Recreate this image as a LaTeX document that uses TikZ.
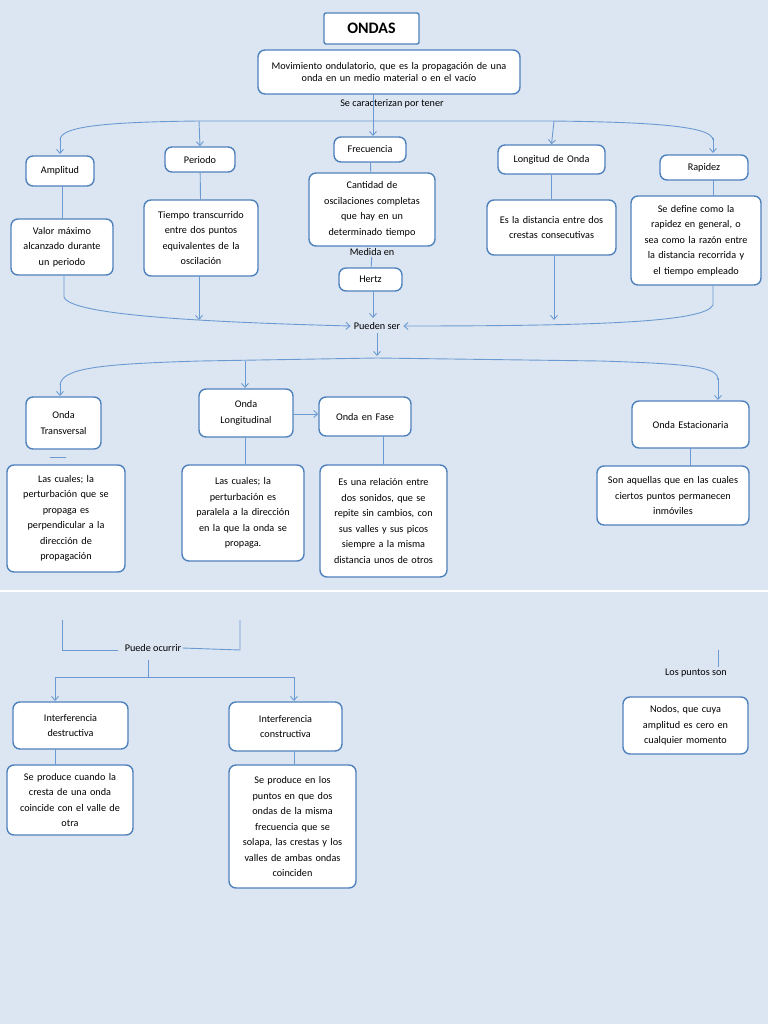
\documentclass[tikz,border=0pt]{standalone}
\usepackage{fontspec}
\setmainfont{Carlito}
\usetikzlibrary{arrows.meta}
\definecolor{bg}{HTML}{DCE6F2}
\definecolor{bd}{HTML}{4F81BD}
\definecolor{ln}{HTML}{6B9AD2}
\newcommand{\mybox}[6]{\node[box] (#1) at ({(#2+#4)/2},{(#3+#5)/2}) [minimum width={(#4-#2)*1pt},minimum height={(#5-#3)*1pt},text width={(#4-#2-8)*1pt}] {#6};}
\begin{document}
\begin{tikzpicture}[x=1pt,y=-1pt,
  box/.style={draw=bd,line width=1.4pt,fill=white,rounded corners=7pt,align=center,inner sep=0pt,font={\fontsize{10.2}{15.5}\selectfont}},
  lab/.style={inner sep=3pt,font={\fontsize{10.2}{11}\selectfont}},
  con/.style={draw=ln,line width=0.9pt},
  arr/.style={con,-{Straight Barb[length=4pt,width=7pt]}}]
\fill[bg] (0,0) rectangle (768,1024);
\useasboundingbox (0,0) rectangle (768,1024);
\draw[white,line width=1.5pt] (0,591) -- (768,591);
% top
\node[box,rounded corners=2pt,minimum width=95pt,minimum height=31pt,font={\fontsize{16}{18}\selectfont\bfseries}] (ondas) at (371.5,28.5) {ONDAS};
\mybox{mov}{258}{50}{520}{94}{Movimiento ondulatorio, que es la propagación de una\\[-4pt]onda en un medio material o en el vacío}
\node[lab,inner sep=1pt] (sc) at (392,104) {Se caracterizan por tener};
\mybox{amp}{26}{156}{94}{186}{Amplitud}
\mybox{per}{165}{147}{235}{172}{Periodo}
\mybox{fre}{334}{137}{406}{162}{Frecuencia}
\mybox{lon}{498}{145}{605}{174}{Longitud de Onda}
\mybox{rap}{660}{155}{748}{180}{Rapidez}
\draw[arr] (373,94) -- (373,136);
\draw[con] (60,140) .. controls (60,127) and (100,122) .. (200,121) -- (550,121) .. controls (650,122) and (713,126) .. (713,140);
\draw[arr] (60,138) -- (60,154);
\draw[arr] (713,138) -- (713,153);
\draw[arr] (199,121) -- (per.north);
\draw[arr] (554,121) -- (lon.north);
\mybox{vm}{11}{219}{113}{275}{Valor máximo\\alcanzado durante\\un periodo}
\mybox{tt}{144}{200}{258}{276}{Tiempo transcurrido\\entre dos puntos\\equivalentes de la\\oscilación}
\mybox{ca}{309}{173}{435}{246}{Cantidad de\\oscilaciones completas\\que hay en un\\determinado tiempo}
\node[lab,inner sep=1pt] (me) at (372,252) {Medida en};
\mybox{hz}{339}{268}{402}{291}{Hertz}
\mybox{es}{487}{200}{616}{255}{Es la distancia entre dos\\crestas consecutivas}
\mybox{sd}{631}{196}{761}{285}{Se define como la\\rapidez en general, o\\sea como la razón entre\\la distancia recorrida y\\el tiempo empleado}
\draw[con] (62,186) -- (62,219);
\draw[con] (per) -- (tt);
\draw[con] (fre) -- (ca);
\draw[con] (me) -- (hz);
\draw[con] (lon) -- (es);
\draw[con] (713,180) -- (713,196);
\node[lab] (ps) at (377,326) {Pueden ser};
\draw[arr] (64,275) -- (64,297) .. controls (70,315) and (200,322) .. (ps.west);
\draw[arr] (199,276) -- (199,320);
\draw[arr] (373,291) -- (373,318);
\draw[arr] (554,255) -- (554,320);
\draw[arr] (713,285) -- (713,305) .. controls (705,322) and (600,326) .. (ps.east);
\draw[arr] (ps.south) -- (377,356);
% second level
\mybox{ot}{26}{397}{101}{449}{Onda\\Transversal}
\mybox{ol}{199}{389}{293}{437}{Onda\\Longitudinal}
\mybox{of}{319}{397}{411}{436}{Onda en Fase}
\mybox{oe}{632}{401}{749}{448}{Onda Estacionaria}
\draw[con] (60,385) .. controls (62,368) and (100,364) .. (200,361) -- (377,358) -- (600,361) .. controls (700,364) and (718,368) .. (718,380);
\draw[arr] (60,383) -- (60,396);
\draw[arr] (245,361) -- (245,388);
\draw[arr] (718,378) -- (718,400);
\draw[arr] (ol.east |- 0,414) -- (of.west |- 0,414);
\draw[con] (50,457) -- (66,457);
\mybox{t1}{7}{465}{125}{572}{Las cuales; la\\perturbación que se\\propaga es\\perpendicular a la\\dirección de\\propagación}
\mybox{t2}{182}{465}{304}{561}{Las cuales; la\\perturbación es\\paralela a la dirección\\en la que la onda se\\propaga.}
\mybox{t3}{320}{465}{447}{577}{Es una relación entre\\dos sonidos, que se\\repite sin cambios, con\\sus valles y sus picos\\siempre a la misma\\distancia unos de otros}
\mybox{t4}{597}{466}{749}{525}{Son aquellas que en las cuales\\ciertos puntos permanecen\\inmóviles}
\draw[con] (245,437) -- (245,465);
\draw[con] (383,436) -- (383,465);
\draw[con] (690,448) -- (690,466);
% lower part
\node[lab,inner sep=1pt] (po) at (153,648) {Puede ocurrir};
\draw[con] (62,620) -- (62,650) -- (118,650);
\draw[con] (po.east) -- (240,650) -- (240,620);
\draw[con] (148,660) -- (148,677);
\mybox{id}{13}{702}{128}{749}{Interferencia\\destructiva}
\mybox{ic}{229}{702}{342}{751}{Interferencia\\constructiva}
\draw[con] (55,677) -- (294,677);
\draw[arr] (55,677) -- (55,701);
\draw[arr] (294,677) -- (294,701);
\mybox{d1}{7}{765}{133}{835}{Se produce cuando la\\cresta de una onda\\coincide con el valle de\\otra}
\mybox{d2}{229}{765}{356}{888}{Se produce en los\\puntos en que dos\\ondas de la misma\\frecuencia que se\\solapa, las crestas y los\\valles de ambas ondas\\coinciden}
\draw[con] (55,749) -- (55,765);
\draw[con] (294,751) -- (294,765);
\node[lab,inner sep=1pt] (lp) at (696,673) {Los puntos son};
\draw[con] (718,650) -- (718,667);
\mybox{nd}{623}{697}{748}{754}{Nodos, que cuya\\amplitud es cero en\\cualquier momento}
\end{tikzpicture}
\end{document}
